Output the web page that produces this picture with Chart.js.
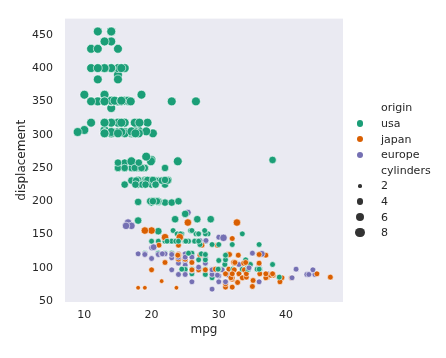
<!DOCTYPE html>
<html>
<head>
<meta charset="utf-8">
<script src="https://cdn.jsdelivr.net/npm/chart.js@4.4.0/dist/chart.umd.min.js"></script>
<style>
  body { margin: 0; background: #fff; }
  #wrap { position: relative; width: 446px; height: 358px; }
  #legend { position: absolute; left: 350px; top: 100.2px; font: 11px "DejaVu Sans", sans-serif; color: #262626; }
  .row { display: flex; align-items: center; height: 15.6px; white-space: nowrap; }
  .mk { width: 20px; height: 15.6px; display: flex; justify-content: center; align-items: center; margin-right: 11px; }
  .mk span { display: block; border-radius: 50%; }
</style>
</head>
<body>
<div id="wrap">
  <canvas id="chart" width="446" height="358"></canvas>
  <div id="legend"></div>
</div>
<script>
const U = 'usa', J = 'japan', E = 'europe';

// one entry per car, same order in every array
const mpg = [
  18,15,18,16,17,15,14,14,14,15,15,14,15,14,
  24,22,18,21,27,26,25,24,25,26,21,10,10,11,9,
  27,28,25,25,19,16,17,19,18,14,14,14,14,12,13,13,18,22,19,18,23,28,30,30,31,35,27,26,
  24,25,23,20,21,13,14,15,14,17,11,13,12,13,19,15,13,13,14,18,22,21,26,22,28,23,28,27,
  13,14,13,14,15,12,13,13,14,13,12,13,18,16,18,18,23,26,11,12,13,12,18,20,21,22,18,19,21,26,15,16,29,24,20,19,15,24,20,11,
  20,21,19,15,31,26,32,25,16,16,18,16,13,14,14,14,29,26,26,31,32,28,24,26,24,26,31,
  19,18,15,15,16,15,16,14,17,16,15,18,21,20,13,29,23,20,23,24,25,24,18,29,19,23,23,22,25,33,
  28,25,25,26,27,17.5,16,15.5,14.5,22,22,24,22.5,29,24.5,29,33,20,18,18.5,17.5,29.5,32,28,26.5,20,13,19,19,16.5,16.5,13,13,13,
  31.5,30,36,25.5,33.5,17.5,17,15.5,15,17.5,20.5,19,18.5,16,15.5,15.5,16,29,24.5,26,25.5,30.5,33.5,30,30.5,22,21.5,21.5,
  43.1,36.1,32.8,39.4,36.1,19.9,19.4,20.2,19.2,20.5,20.2,25.1,20.5,19.4,20.6,20.8,18.6,18.1,19.2,17.7,18.1,17.5,30,27.5,27.2,30.9,21.1,23.2,23.8,23.9,20.3,17,21.6,16.2,31.5,29.5,
  21.5,19.8,22.3,20.2,20.6,17,17.6,16.5,18.2,16.9,15.5,19.2,18.5,31.9,34.1,35.7,27.4,25.4,23,27.2,23.9,34.2,34.5,31.8,37.3,28.4,28.8,26.8,33.5,
  41.5,38.1,32.1,37.2,28,26.4,24.3,19.1,34.3,29.8,31.3,37,32.2,46.6,27.9,40.8,44.3,43.4,36.4,30,44.6,40.9,33.8,29.8,32.7,23.7,35,23.6,32.4,
  27.2,26.6,25.8,23.5,30,39.1,39,35.1,32.3,37,37.7,34.1,34.7,34.4,29.9,33,34.5,33.7,32.4,32.9,31.6,28.1,30.7,25.4,24.2,22.4,26.6,20.2,17.6,
  28,27,34,31,29,27,24,36,37,31,38,36,36,36,34,38,32,38,25,38,26,22,32,36,27,27,44,32,28,31
];

const displacement = [
  307,350,318,304,302,429,454,440,455,390,383,340,400,455,
  113,198,199,200,97,97,110,107,104,121,199,360,307,318,304,
  97,140,113,98,232,225,250,250,232,350,400,351,318,383,400,400,258,140,250,250,122,116,79,88,71,72,97,91,
  113,97.5,97,140,122,350,400,318,351,304,429,350,350,400,70,304,307,302,318,121,121,120,96,122,97,120,98,97,
  350,304,350,302,318,429,400,351,318,440,455,360,225,250,232,250,198,97,400,400,360,350,232,97,140,108,70,122,155,98,350,400,68,116,114,121,318,121,156,350,
  198,200,232,250,79,122,71,140,250,258,225,302,350,318,302,304,98,79,97,76,83,90,90,116,120,108,79,
  225,250,250,250,400,350,318,351,231,250,258,225,231,262,302,97,140,232,140,134,90,119,171,90,232,115,120,121,121,91,
  107,116,140,98,101,305,318,304,351,225,250,200,232,85,98,90,91,225,250,250,258,97,85,97,140,130,318,120,156,168,350,350,302,318,
  98,111,79,122,85,305,260,318,302,250,231,225,250,400,350,400,351,97,151,97,140,98,98,97,97,146,121,80,
  90,98,78,85,91,260,318,302,231,200,200,140,225,232,231,200,225,258,305,231,302,318,98,134,119,105,134,156,151,119,131,163,121,163,89,98,
  231,200,140,232,225,305,302,351,318,350,351,267,360,89,86,98,121,183,350,141,260,105,105,85,91,151,173,173,151,
  98,89,98,86,151,140,151,225,97,134,120,119,108,86,156,85,90,90,121,146,91,85,97,89,168,70,122,140,107,
  135,151,156,173,135,79,86,81,97,85,89,91,105,98,98,105,100,107,108,119,120,141,145,168,146,231,350,200,225,
  112,112,112,112,135,151,140,105,91,91,105,98,120,107,108,91,91,91,181,262,156,232,144,135,151,140,97,135,120,119
];

const cylinders = [
  8,8,8,8,8,8,8,8,8,8,8,8,8,8,
  4,6,6,6,4,4,4,4,4,4,6,8,8,8,8,
  4,4,4,4,6,6,6,6,6,8,8,8,8,8,8,8,6,4,6,6,4,4,4,4,4,4,4,4,
  4,4,4,4,4,8,8,8,8,8,8,8,8,8,3,8,8,8,8,4,4,4,4,4,4,4,4,4,
  8,8,8,8,8,8,8,8,8,8,8,8,6,6,6,6,6,4,8,8,8,8,6,4,4,4,3,4,6,4,8,8,4,4,4,4,8,4,6,8,
  6,6,6,6,4,4,4,4,6,6,6,8,8,8,8,8,4,4,4,4,4,4,4,4,4,4,4,
  6,6,6,6,8,8,8,8,6,6,6,6,6,8,8,4,4,6,4,4,4,4,6,4,6,4,4,4,4,4,
  4,4,4,4,4,8,8,8,8,6,6,6,6,4,4,4,4,6,6,6,6,4,4,4,4,4,8,4,6,6,8,8,8,8,
  4,4,4,4,4,8,8,8,8,6,6,6,6,8,8,8,8,4,4,4,4,4,4,4,4,6,4,3,
  4,4,4,4,4,8,8,8,6,6,6,4,6,6,6,6,6,6,8,6,8,8,4,4,4,4,4,4,4,4,5,6,4,6,4,4,
  6,6,4,6,6,8,8,8,8,8,8,8,8,4,4,4,4,5,8,4,8,4,4,4,4,4,6,6,4,
  4,4,4,4,4,4,4,6,4,4,4,4,4,4,4,4,4,4,5,4,4,4,4,4,6,3,4,4,4,
  4,4,4,6,4,4,4,4,4,4,4,4,4,4,4,4,4,4,4,4,4,4,6,6,6,6,8,6,6,
  4,4,4,4,4,4,4,4,4,4,4,4,4,4,4,4,4,4,6,6,4,6,4,4,4,4,4,4,4,4
];

const origin = [
  U,U,U,U,U,U,U,U,U,U,U,U,U,U,
  J,U,U,U,J,E,E,E,E,E,U,U,U,U,U,
  J,U,J,U,U,U,U,U,U,U,U,U,U,U,U,U,U,U,U,U,U,E,E,E,J,J,E,U,
  J,U,E,U,U,U,U,U,U,U,U,U,U,U,J,U,U,U,U,E,E,E,E,U,J,J,U,J,
  U,U,U,U,U,U,U,U,U,U,U,U,U,U,U,U,U,E,U,U,U,U,U,J,U,J,J,U,U,E,U,U,E,E,E,E,U,E,J,U,
  U,U,U,U,J,U,J,U,U,U,U,U,U,U,U,U,E,E,E,J,J,U,E,E,J,J,E,
  U,U,U,U,U,U,U,U,U,U,U,U,U,U,U,J,U,U,U,J,E,J,U,E,U,E,E,E,E,J,
  E,E,U,U,E,U,U,U,U,U,U,U,U,U,U,E,J,U,U,U,U,E,J,J,U,E,U,E,J,E,U,U,U,U,
  J,U,E,U,J,U,U,U,U,U,U,U,U,U,U,U,U,E,U,J,U,U,U,J,E,J,E,J,
  E,U,J,J,J,U,U,U,U,U,U,U,U,U,U,U,U,U,U,U,U,U,U,J,J,U,J,U,U,J,E,E,E,E,E,J,
  U,U,U,U,U,U,U,U,U,U,U,U,U,E,J,U,U,E,U,E,U,U,U,J,E,U,U,U,U,
  E,J,U,J,U,U,U,U,E,J,J,J,J,J,U,J,E,E,E,E,J,E,J,E,J,J,E,U,J,
  U,U,U,U,U,J,U,J,J,J,J,J,U,U,U,E,E,J,J,J,J,E,E,J,J,U,U,U,U,
  U,U,U,U,U,U,U,E,J,J,U,U,J,J,J,J,J,J,U,U,U,U,J,U,U,U,E,U,U,U
];

const origins = [U, J, E];
const originColors = { usa: '#1b9e77', japan: '#d95f02', europe: '#7570b3' };
const cylinderTicks = [2, 4, 6, 8];
const xTicks = [10, 20, 30, 40];
const yTicks = [50, 100, 150, 200, 250, 300, 350, 400, 450];

// seaborn style size mapping: marker area 18..72 pt^2 for 3..8 cylinders
function markerArea(c) {
  return 18 + 54 * (c - 3) / 5;
}
function markerRadius(c) {
  return Math.sqrt(markerArea(c)) / 2 + 0.2;
}

const points = mpg.map((m, i) => ({ x: m, y: displacement[i] }));

const bgPlugin = {
  id: 'bg',
  beforeDraw(chart) {
    const { ctx, chartArea: a } = chart;
    ctx.save();
    ctx.fillStyle = '#eaeaf2';
    ctx.fillRect(a.left, a.top, a.right - a.left, a.bottom - a.top);
    ctx.restore();
  }
};

const font = 'DejaVu Sans';
const textColor = '#262626';

new Chart(document.getElementById('chart'), {
  type: 'scatter',
  data: {
    datasets: [{
      data: points,
      pointRadius: ctx => markerRadius(cylinders[ctx.dataIndex]),
      backgroundColor: ctx => originColors[origin[ctx.dataIndex]],
      borderColor: '#ffffff',
      borderWidth: 0.6
    }]
  },
  options: {
    responsive: false,
    animation: false,
    events: [],
    layout: { padding: { top: 4, right: 103, left: 0, bottom: 0 } },
    plugins: { legend: { display: false }, tooltip: { enabled: false } },
    scales: {
      x: {
        type: 'linear',
        min: 7.12,
        max: 48.48,
        afterBuildTicks: s => { s.ticks = xTicks.map(v => ({ value: v })); },
        afterFit: s => { s.height = 56; },
        grid: { display: false, drawTicks: false },
        border: { display: false },
        ticks: { padding: 7, color: textColor, font: { family: font, size: 11 } },
        title: { display: true, text: 'mpg', color: textColor, font: { family: font, size: 12 }, padding: { top: 0, bottom: 21 } }
      },
      y: {
        min: 48.65,
        max: 474.35,
        afterBuildTicks: s => { s.ticks = yTicks.map(v => ({ value: v })); },
        afterFit: s => { s.width = 65; },
        grid: { display: false, drawTicks: false },
        border: { display: false },
        ticks: { padding: 12, color: textColor, font: { family: font, size: 11 } },
        title: { display: true, text: 'displacement', color: textColor, font: { family: font, size: 12 }, padding: { top: 15, bottom: 0 } }
      }
    }
  },
  plugins: [bgPlugin]
});

// legend on the right, like seaborn's
function legendRow(label, diameter, color) {
  const mark = diameter ? `<span style="width:${diameter}px;height:${diameter}px;background:${color}"></span>` : '';
  return `<div class="row"><div class="mk">${mark}</div><div>${label}</div></div>`;
}
let html = legendRow('origin');
origins.forEach(o => { html += legendRow(o, 6.5, originColors[o]); });
html += legendRow('cylinders');
cylinderTicks.forEach(c => {
  const d = Math.sqrt(markerArea(c)) + 1;
  html += legendRow(String(c), d.toFixed(1), '#333333');
});
document.getElementById('legend').innerHTML = html;
</script>
</body>
</html>
